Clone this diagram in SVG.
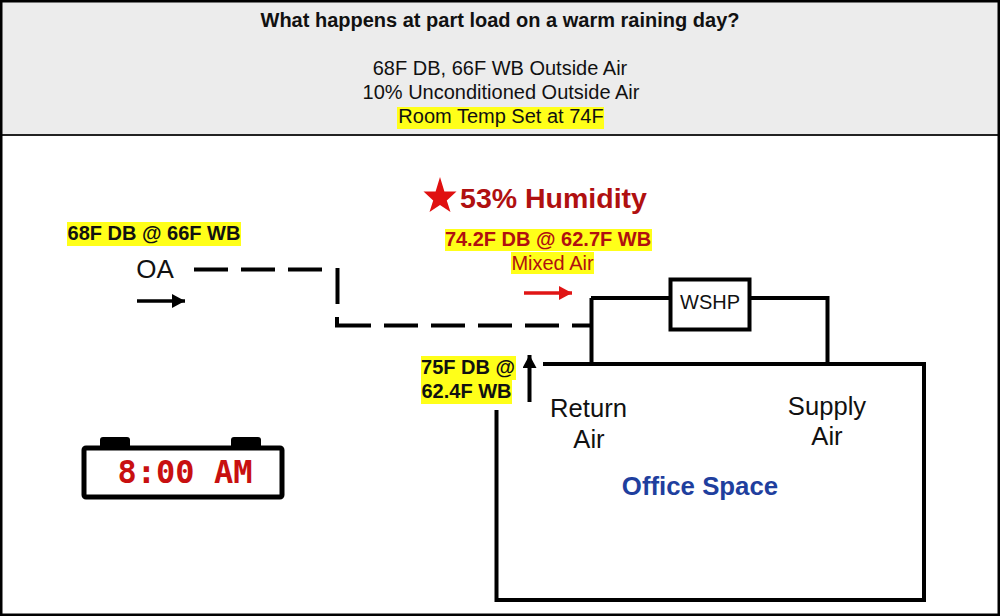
<svg xmlns="http://www.w3.org/2000/svg" width="1000" height="616" viewBox="0 0 1000 616">
<style>
text{font-family:"Liberation Sans",Arial,sans-serif;text-anchor:middle;fill:#111}
.b{font-weight:700}
.r{fill:#b01010}
.hl{fill:#ffff19}
.ln{fill:none;stroke:#000;stroke-width:4}
.dash{fill:none;stroke:#000;stroke-width:4;stroke-dasharray:34 13}
</style>
<defs>
<marker id="ah" markerUnits="userSpaceOnUse" markerWidth="14" markerHeight="14" refX="13" refY="7" orient="auto"><path d="M0 0L13 7L0 14Z" fill="#000"/></marker>
<marker id="ahr" markerUnits="userSpaceOnUse" markerWidth="14" markerHeight="14" refX="13" refY="7" orient="auto"><path d="M0 0L13 7L0 14Z" fill="#e01515"/></marker>
</defs>
<rect x="0" y="0" width="1000" height="616" fill="#fff"/>
<g id="header">
<rect x="0" y="0" width="1000" height="135" fill="#ececec"/>
<line x1="0" y1="135" x2="1000" y2="135" stroke="#222" stroke-width="2"/>
<text class="b" x="500" y="27" font-size="20">What happens at part load on a warm raining day?</text>
<text x="500" y="75" font-size="20">68F DB, 66F WB Outside Air</text>
<text x="501" y="99" font-size="20">10% Unconditioned Outside Air</text>
<rect class="hl" x="397" y="107" width="207" height="22"/>
<text x="501" y="123" font-size="20">Room Temp Set at 74F</text>
</g>
<g id="connectors">
<path class="dash" d="M194 269.500H324"/>
<path class="ln" d="M337.500 268V304"/>
<path class="ln" d="M337 317V325.500H371"/>
<path class="dash" d="M384 325.500H590"/>
<path class="ln" d="M591.500 298V363"/>
<path class="ln" d="M591 298H670"/>
<path class="ln" d="M750 298H827.500V364"/>
<path d="M137 301H185" fill="none" stroke="#000" stroke-width="3.500" marker-end="url(#ah)"/>
<path d="M524 293H572" fill="none" stroke="#e01515" stroke-width="3.500" marker-end="url(#ahr)"/>
<path d="M529.500 402V355" fill="none" stroke="#000" stroke-width="4" marker-end="url(#ah)"/>
</g>
<g id="office-space">
<path d="M543 364H924V600H496.500V410" fill="none" stroke="#000" stroke-width="4"/>
<text x="700" y="495" font-size="25.800" class="b" style="fill:#1f3f9e">Office Space</text>
</g>
<g id="wshp">
<rect x="670.500" y="279.500" width="79" height="50" fill="#fff" stroke="#000" stroke-width="4"/>
<text x="710" y="309" font-size="20">WSHP</text>
</g>
<g id="oa">
<rect class="hl" x="67" y="222" width="174" height="24"/>
<text class="b" x="154" y="240" font-size="20">68F DB @ 66F WB</text>
<text x="155" y="278" font-size="26">OA</text>
</g>
<g id="mixed-air">
<path d="M440 177L444.400 191.500H456.500L446.800 200.500L450.500 212L440 205L429.500 212L433.200 200.500L423.500 191.500H435.600Z" fill="#e01010"/>
<text class="b r" x="553.500" y="208" font-size="28.500">53% Humidity</text>
<rect class="hl" x="445" y="229" width="207" height="22"/>
<text class="b r" x="548" y="246" font-size="20">74.2F DB @ 62.7F WB</text>
<rect class="hl" x="511" y="252" width="83" height="22"/>
<text class="r" x="552.500" y="270" font-size="20">Mixed Air</text>
</g>
<g id="return-temp">
<rect class="hl" x="421" y="356" width="95" height="24"/>
<rect class="hl" x="421" y="380" width="91" height="24"/>
<text class="b" x="468" y="374" font-size="20">75F DB @</text>
<text class="b" x="466.500" y="398" font-size="20">62.4F WB</text>
</g>
<g id="return-air">
<text x="588.500" y="417" font-size="25.600">Return</text>
<text x="589" y="448" font-size="25.600">Air</text>
</g>
<g id="supply-air">
<text x="827" y="415" font-size="25.600">Supply</text>
<text x="827" y="445" font-size="25.600">Air</text>
</g>
<g id="clock">
<rect x="100" y="437" width="30" height="14" rx="3" fill="#000"/>
<rect x="231" y="437" width="30" height="14" rx="3" fill="#000"/>
<rect x="84" y="448" width="198" height="49" rx="2" fill="#fff" stroke="#000" stroke-width="5"/>
<text x="185" y="483" font-size="32" font-weight="700" style="font-family:'DejaVu Sans Mono','Liberation Mono',monospace;fill:#c81010">8:00 AM</text>
</g>
<rect id="frame" x="1" y="1" width="998" height="614" fill="none" stroke="#000" stroke-width="3"/>
</svg>
